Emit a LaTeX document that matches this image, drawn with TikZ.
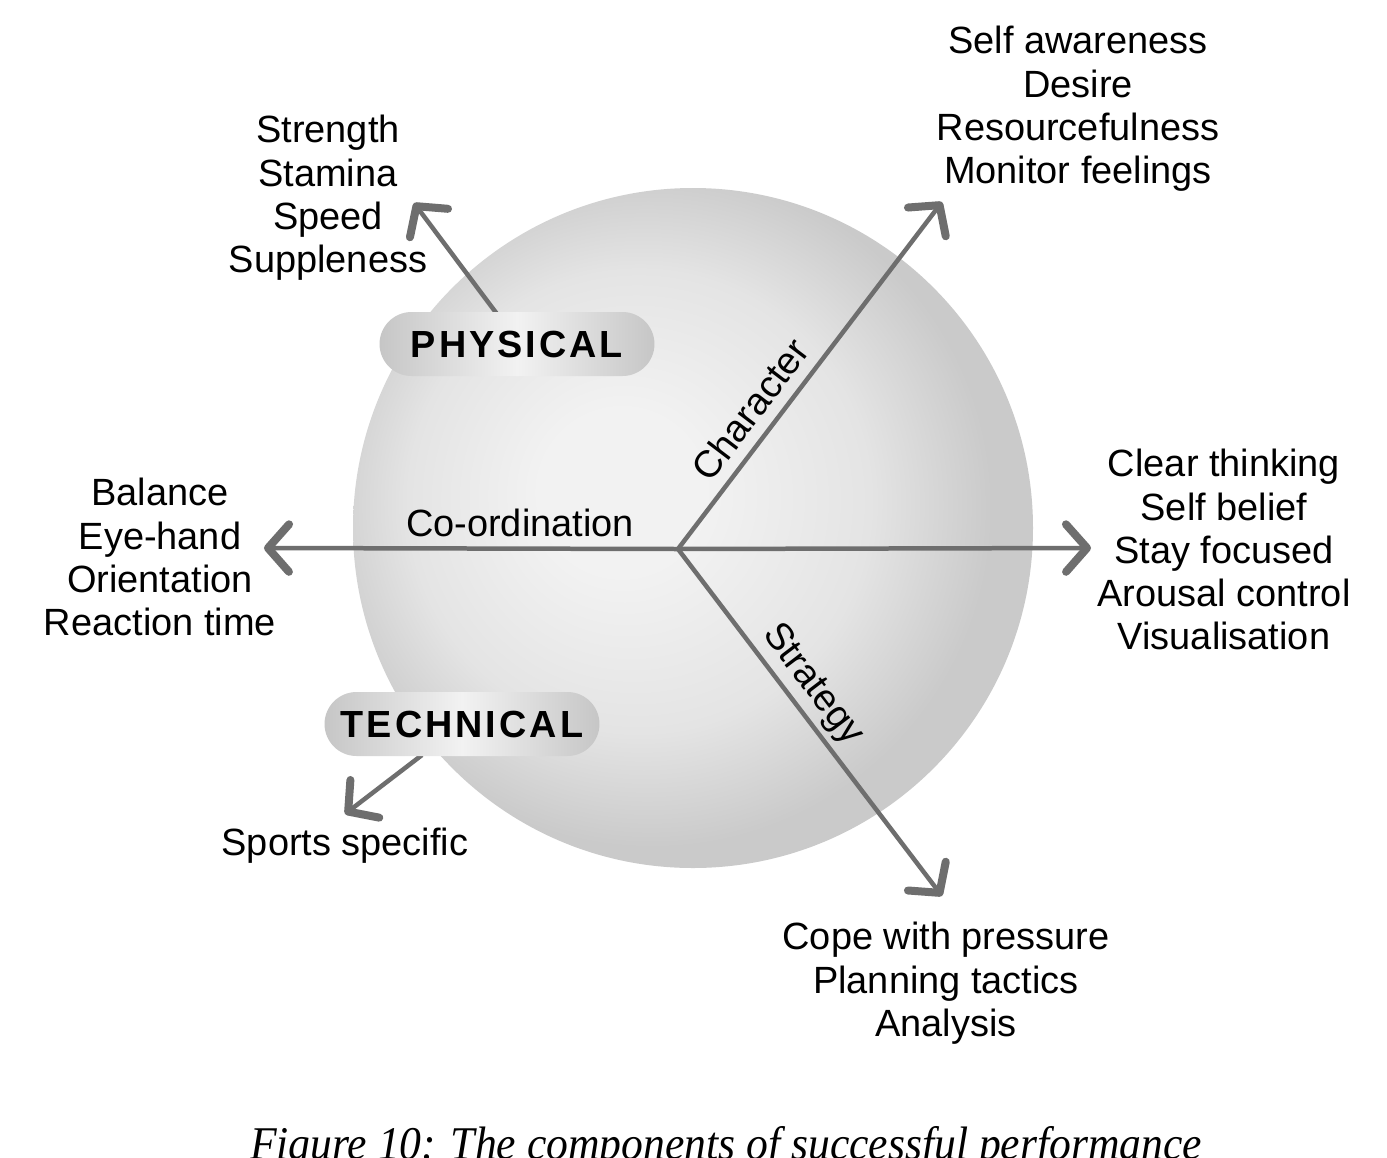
\documentclass[tikz,border=0pt]{standalone}
\usepackage{fontspec}
\setmainfont{Liberation Sans}
\newfontfamily\capfont{Liberation Serif}
\newfontfamily\pillfont[LetterSpace=8]{Liberation Sans Bold}
\usetikzlibrary{arrows.meta,shapes.misc}
\definecolor{arrowgray}{HTML}{6E6E6E}
\definecolor{discin}{HTML}{F2F2F2}
\definecolor{discmid}{HTML}{E4E4E4}
\definecolor{discout}{HTML}{CACACA}
\definecolor{pillend}{HTML}{C6C6C6}
\definecolor{pillmid}{HTML}{F2F2F2}
\pgfdeclareradialshading{discshade}{\pgfpoint{-6bp}{3bp}}{color(0bp)=(discin); color(6bp)=(discin); color(17bp)=(discmid); color(25bp)=(discout); color(50bp)=(discout)}
\tikzset{
  arr/.style={draw=arrowgray, line width=0.09cm,
    -{Straight Barb[length=0.42cm,width=0.95cm,line width=0.16cm,round]}},
  listtext/.style={font=\fontsize{21.6}{24.6}\selectfont, align=center, anchor=north, inner sep=0pt},
  axislabel/.style={font=\fontsize{21.6}{24.6}\selectfont, inner sep=0pt},
  pill/.style={rounded rectangle, minimum width=5.5cm, minimum height=1.28cm, inner sep=0pt,
    left color=pillend, right color=pillend, middle color=pillmid,
    font=\pillfont\fontsize{21.5}{24}\selectfont}
}
\begin{document}
\begin{tikzpicture}[x=0.02cm,y=-0.02cm]
\useasboundingbox (0,0) rectangle (1387,1157);
\fill[white] (0,0) rectangle (1387,1157);
% disc
\shade[shading=discshade] (693,528) circle[radius=340];
% hub and end points
\coordinate (c) at (678,549);
\coordinate (eL) at (264,548);
\coordinate (eR) at (1091,548);
\coordinate (eUR) at (942,202);
\coordinate (eLR) at (942,896);
\coordinate (pS) at (497,314);
\coordinate (pE) at (414,203);
\coordinate (tS) at (422,755);
\coordinate (tE) at (345,814);
% connectors
\draw[arr] (c) -- (eL);
\draw[arr] (c) -- (eR);
\draw[arr] (c) -- node[pos=0.355, sloped, anchor=south, inner sep=0pt, yshift=0.22cm, axislabel] (char) {Character} (eUR);
\draw[arr] (c) -- node[pos=0.435, sloped, anchor=south, inner sep=0pt, yshift=0.1cm, axislabel] (strat) {Strategy} (eLR);
\draw[arr] (pS) -- (pE);
\draw[arr] (tS) -- (tE);
% pills
\node[pill] (physical) at (517,344) {PHYSICAL};
\node[pill] (technical) at (462,724) {TECHNICAL};
% labels
\node[axislabel, anchor=base] (coord) at (520,536) {Co-ordination};
\node[listtext] (phys) at (328,115) {Strength\\Stamina\\Speed\\Suppleness};
\node[listtext] (chr) at (1078,26) {Self awareness\\Desire\\Resourcefulness\\Monitor feelings};
\node[listtext] (mind) at (1224,449) {Clear thinking\\Self belief\\Stay focused\\Arousal control\\Visualisation};
\node[listtext] (coo) at (160,478) {Balance\\Eye-hand\\Orientation\\Reaction time};
\node[listtext] (str) at (946,922) {Cope with pressure\\Planning tactics\\Analysis};
\node[listtext] (tec) at (345,828) {Sports specific};
% caption
\node[anchor=base, inner sep=0pt, xscale=0.93, font=\capfont\itshape\fontsize{26.7}{30}\selectfont] (caption) at (726,1159) {Figure 10: The components of successful performance};
\end{tikzpicture}
\end{document}
